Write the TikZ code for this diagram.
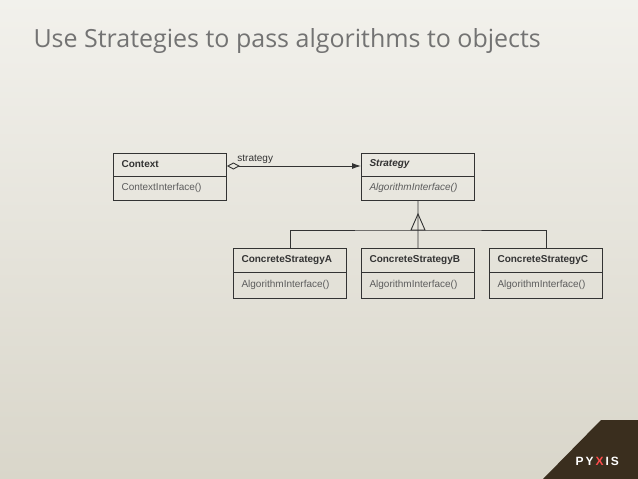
\documentclass[tikz,border=0pt]{standalone}
\usepackage{fontspec}
\setmainfont{Liberation Sans}
\newfontfamily\titlefont{Open Sans}
\usetikzlibrary{arrows.meta,shapes.geometric}
\definecolor{bgA}{HTML}{F2F1EC}
\definecolor{bgB}{HTML}{D9D6CA}
\definecolor{logo}{HTML}{3A2E1E}
\definecolor{ln}{HTML}{333333}
\tikzset{
  umlbox/.style={draw=ln,line width=0.9pt,minimum width=113pt,minimum height=47pt,inner sep=0pt},
  hd/.style={font=\fontsize{10}{11}\selectfont\bfseries,anchor=west,text=ln},
  op/.style={font=\fontsize{10}{11}\selectfont,anchor=west,text=ln!80},
  conn/.style={draw=ln,line width=0.9pt}
}
\begin{document}
\begin{tikzpicture}[x=1pt,y=-1pt]
\useasboundingbox (0,0) rectangle (638,479);
\shade[top color=bgA,bottom color=bgB] (0,0) rectangle (638,479);
\fill[logo] (601,420) -- (638,420) -- (638,479) -- (543,479) -- cycle;
\node[anchor=west,text=white,font=\fontsize{12}{13}\selectfont\bfseries] (logotxt) at (572,461) {P\,Y\,\textcolor{red!70!white}{X}\,I\,S};
\node[anchor=west,text=gray!90!black,font=\titlefont\fontsize{25}{28}\selectfont] (title) at (30,41) {Use Strategies to pass algorithms to objects};
% boxes
\node[umlbox,anchor=north west] (ctx) at (113,153) {};
\node[umlbox,anchor=north west] (str) at (361,153) {};
\node[umlbox,anchor=north west,minimum height=50pt] (ca) at (233,248) {};
\node[umlbox,anchor=north west,minimum height=50pt] (cb) at (361,248) {};
\node[umlbox,anchor=north west,minimum height=50pt] (cc) at (489,248) {};
\foreach \b/\y in {ctx/23,str/23,ca/24,cb/24,cc/24}{
  \draw[conn] ([yshift=-\y pt]\b.north west) -- ([yshift=-\y pt]\b.north east);}
\node[hd] (ctxh) at ([xshift=5pt,yshift=-11pt]ctx.north west) {Context};
\node[op] (ctxo) at ([xshift=5pt,yshift=-35pt]ctx.north west) {ContextInterface()};
\node[hd,font=\fontsize{10}{11}\selectfont\bfseries\itshape] (strh) at ([xshift=5pt,yshift=-11pt]str.north west) {Strategy};
\node[op,font=\fontsize{10}{11}\selectfont\itshape] (stro) at ([xshift=5pt,yshift=-35pt]str.north west) {AlgorithmInterface()};
\foreach \b/\t in {ca/A,cb/B,cc/C}{
  \node[hd] (\b h) at ([xshift=5pt,yshift=-12pt]\b.north west) {ConcreteStrategy\t};
  \node[op] (\b o) at ([xshift=5pt,yshift=-37pt]\b.north west) {AlgorithmInterface()};}
% aggregation
\coordinate (ctxr) at ([yshift=-13pt]ctx.north east);
\coordinate (strl) at ([yshift=-13pt]str.north west);
\draw[conn,{Diamond[open,length=13pt,width=7pt]}-{Latex[length=9pt,width=6pt]}] (ctxr) -- (strl);
\node[font=\fontsize{10}{11}\selectfont,text=ln,anchor=south west] (lab) at ([xshift=7pt,yshift=-1pt]ctxr) {strategy};
% inheritance
\coordinate (tri) at (418,230);
\coordinate (apex) at (418,214);
\draw[conn] (str.south) -- (apex);
\draw[conn,fill=bgA!60!bgB,line join=miter] (apex) -- (411,230) -- (425,230) -- cycle;
\draw[conn] (ca.north) |- (tri) -| (cc.north);
\draw[conn] (cb.north) -- (apex);
\end{tikzpicture}
\end{document}
